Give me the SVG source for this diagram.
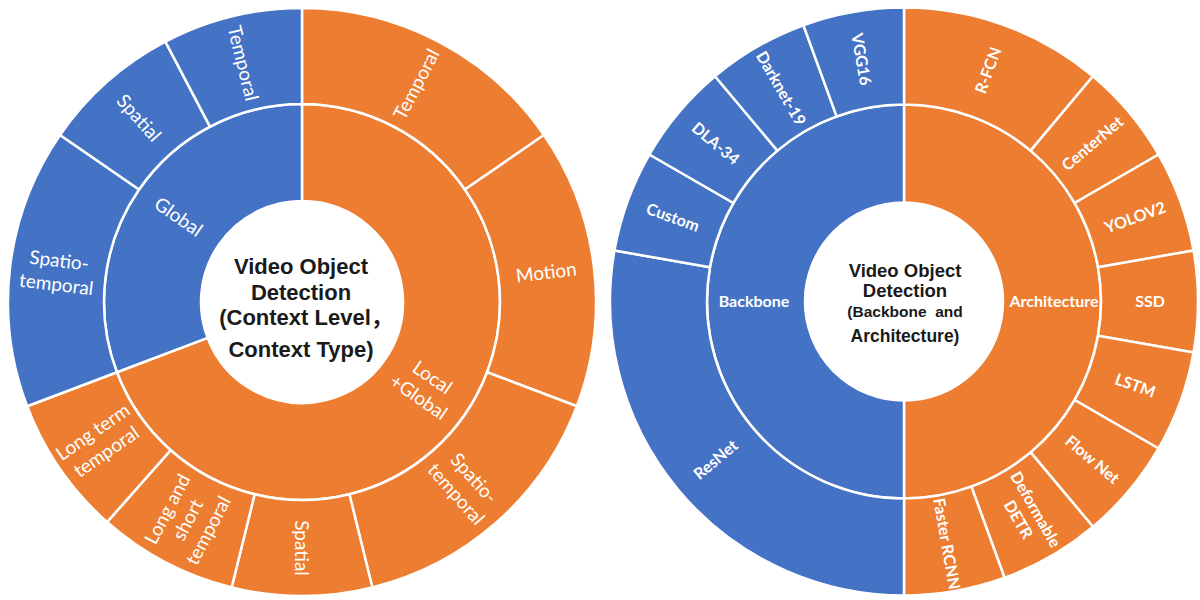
<svg xmlns="http://www.w3.org/2000/svg" width="1200" height="600" viewBox="0 0 1200 600">
<style>
.o{fill:#ED7D31;stroke:#fff;stroke-width:2.5;stroke-linejoin:round}
.b{fill:#4472C4;stroke:#fff;stroke-width:2.5;stroke-linejoin:round}
.l{font-family:Lato,"Open Sans",sans-serif;font-size:19px;fill:#fff;text-anchor:middle}
.r{font-family:Lato,"Open Sans",sans-serif;font-size:16px;font-weight:bold;fill:#fff;text-anchor:middle}
.c{font-family:"Liberation Sans","Noto Sans CJK SC",Arial,sans-serif;font-weight:bold;fill:#1a1a1a;text-anchor:middle}
</style>
<rect width="1200" height="600" fill="#fff"/>

<!-- LEFT SUNBURST -->
<g id="left-chart">
<g id="L-local-global">
<path class="o" d="M302,104 A198,198 0 1 1 116.87,372.21 L207.56,337.81 A101,101 0 1 0 302,201 Z"/>
<text class="l" transform="translate(425.5,387.2) rotate(34.62)"><tspan x="0" y="-5.35">Local</tspan><tspan x="0" y="18.65">+Global</tspan></text>
</g>
<g id="L-global">
<path class="b" d="M116.87,372.21 A198,198 0 0 1 302,104 L302,201 A101,101 0 0 0 207.56,337.81 Z"/>
<text class="l" transform="translate(178.5,216.8) rotate(34.62)" y="6.65">Global</text>
</g>
<g id="L-temporal-o">
<path class="o" d="M302,8 A294,294 0 0 1 543.96,134.98 L464.95,189.52 A198,198 0 0 0 302,104 Z"/>
<text class="l" transform="translate(416.3,84.2) rotate(-62.31)" y="6.65">Temporal</text>
</g>
<g id="L-motion">
<path class="o" d="M543.96,134.98 A294,294 0 0 1 576.89,406.25 L487.13,372.21 A198,198 0 0 0 464.95,189.52 Z"/>
<text class="l" transform="translate(546.2,272.4) rotate(-6.92)" y="6.65">Motion</text>
</g>
<g id="L-spatiotemporal-o">
<path class="o" d="M576.89,406.25 A294,294 0 0 1 372.35,587.44 L349.38,494.24 A198,198 0 0 0 487.13,372.21 Z"/>
<text class="l" transform="translate(465.1,486.1) rotate(48.46)"><tspan x="0" y="-5.35">Spatio-</tspan><tspan x="0" y="18.65">temporal</tspan></text>
</g>
<g id="L-spatial-o">
<path class="o" d="M372.35,587.44 A294,294 0 0 1 231.65,587.44 L254.62,494.24 A198,198 0 0 0 349.38,494.24 Z"/>
<text class="l" transform="translate(302,548) rotate(90)" y="6.65">Spatial</text>
</g>
<g id="L-long-short">
<path class="o" d="M231.65,587.44 A294,294 0 0 1 107.05,522.06 L170.71,450.20 A198,198 0 0 0 254.62,494.24 Z"/>
<text class="l" transform="translate(187.7,519.8) rotate(-62.31)"><tspan x="0" y="-16.35">Long and</tspan><tspan x="0" y="6.65">short</tspan><tspan x="0" y="29.65">temporal</tspan></text>
</g>
<g id="L-long-term">
<path class="o" d="M107.05,522.06 A294,294 0 0 1 27.11,406.25 L116.87,372.21 A198,198 0 0 0 170.71,450.20 Z"/>
<text class="l" transform="translate(99.5,441.8) rotate(-34.62)"><tspan x="0" y="-5.35">Long term</tspan><tspan x="0" y="18.65">temporal</tspan></text>
</g>
<g id="L-spatiotemporal-b">
<path class="b" d="M27.11,406.25 A294,294 0 0 1 60.04,134.98 L139.05,189.52 A198,198 0 0 0 116.87,372.21 Z"/>
<text class="l" transform="translate(57.8,272.4) rotate(6.92)"><tspan x="0" y="-5.35">Spatio-</tspan><tspan x="0" y="18.65">temporal</tspan></text>
</g>
<g id="L-spatial-b">
<path class="b" d="M60.04,134.98 A294,294 0 0 1 165.38,41.66 L209.99,126.67 A198,198 0 0 0 139.05,189.52 Z"/>
<text class="l" transform="translate(138.9,117.9) rotate(48.46)" y="6.65">Spatial</text>
</g>
<g id="L-temporal-b">
<path class="b" d="M165.38,41.66 A294,294 0 0 1 302,8 L302,104 A198,198 0 0 0 209.99,126.67 Z"/>
<text class="l" transform="translate(243.1,63.2) rotate(76.15)" y="6.65">Temporal</text>
</g>
<g id="L-center">
<text class="c" font-size="22"><tspan x="301" y="274">Video Object</tspan><tspan x="301" y="300">Detection</tspan><tspan x="306" y="325">(Context Level，</tspan><tspan x="301" y="357">Context Type)</tspan></text>
</g>
</g>

<!-- RIGHT SUNBURST -->
<g id="right-chart">
<g id="R-architecture">
<path class="o" d="M904,104.5 A197,197 0 0 1 904,498.5 L904,400.5 A99,99 0 0 0 904,202.5 Z"/>
<text class="r" x="1054" y="307.1">Architecture</text>
</g>
<g id="R-backbone">
<path class="b" d="M904,498.5 A197,197 0 0 1 904,104.5 L904,202.5 A99,99 0 0 0 904,400.5 Z"/>
<text class="r" x="754" y="307.1">Backbone</text>
</g>
<g id="R-rfcn">
<path class="o" d="M904,7.5 A294,294 0 0 1 1092.98,76.30 L1030.63,150.60 A197,197 0 0 0 904,104.5 Z"/>
<text class="r" transform="translate(988.1,70.3) rotate(-70)" y="5.6">R-FCN</text>
</g>
<g id="R-centernet">
<path class="o" d="M1092.98,76.30 A294,294 0 0 1 1158.60,154.50 L1074.60,203.00 A197,197 0 0 0 1030.63,150.60 Z"/>
<text class="r" transform="translate(1092.4,143.4) rotate(-40)" y="5.6">CenterNet</text>
</g>
<g id="R-yolov2">
<path class="o" d="M1158.60,154.50 A294,294 0 0 1 1193.53,250.46 L1098.01,267.30 A197,197 0 0 0 1074.60,203.00 Z"/>
<text class="r" transform="translate(1135.2,217.4) rotate(-20)" y="5.6">YOLOV2</text>
</g>
<g id="R-ssd">
<path class="o" d="M1193.53,250.46 A294,294 0 0 1 1193.53,352.54 L1098.01,335.70 A197,197 0 0 0 1098.01,267.30 Z"/>
<text class="r" x="1150" y="307.1">SSD</text>
</g>
<g id="R-lstm">
<path class="o" d="M1193.53,352.54 A294,294 0 0 1 1158.60,448.50 L1074.60,400.00 A197,197 0 0 0 1098.01,335.70 Z"/>
<text class="r" transform="translate(1135.2,385.6) rotate(20)" y="5.6">LSTM</text>
</g>
<g id="R-flownet">
<path class="o" d="M1158.60,448.50 A294,294 0 0 1 1092.98,526.70 L1030.63,452.40 A197,197 0 0 0 1074.60,400.00 Z"/>
<text class="r" transform="translate(1092.4,459.6) rotate(40)" y="5.6">Flow Net</text>
</g>
<g id="R-deformable-detr">
<path class="o" d="M1092.98,526.70 A294,294 0 0 1 1004.55,577.77 L971.37,486.62 A197,197 0 0 0 1030.63,452.40 Z"/>
<text class="r" transform="translate(1027,514.5) rotate(60)"><tspan x="0" y="-4.4">Deformable</tspan><tspan x="0" y="15.6">DETR</tspan></text>
</g>
<g id="R-faster-rcnn">
<path class="o" d="M1004.55,577.77 A294,294 0 0 1 904,595.5 L904,498.5 A197,197 0 0 0 971.37,486.62 Z"/>
<text class="r" transform="translate(946.7,543.8) rotate(80)" y="5.6">Faster RCNN</text>
</g>
<g id="R-resnet">
<path class="b" d="M904,595.5 A294,294 0 0 1 614.47,250.46 L709.99,267.30 A197,197 0 0 0 904,498.5 Z"/>
<text class="r" transform="translate(715.6,459.6) rotate(-40)" y="5.6">ResNet</text>
</g>
<g id="R-custom">
<path class="b" d="M614.47,250.46 A294,294 0 0 1 649.40,154.50 L733.40,203.00 A197,197 0 0 0 709.99,267.30 Z"/>
<text class="r" transform="translate(672.8,217.4) rotate(20)" y="5.6">Custom</text>
</g>
<g id="R-dla34">
<path class="b" d="M649.40,154.50 A294,294 0 0 1 715.02,76.30 L777.37,150.60 A197,197 0 0 0 733.40,203.00 Z"/>
<text class="r" transform="translate(715.6,143.4) rotate(40)" y="5.6">DLA-34</text>
</g>
<g id="R-darknet19">
<path class="b" d="M715.02,76.30 A294,294 0 0 1 803.45,25.23 L836.63,116.38 A197,197 0 0 0 777.37,150.60 Z"/>
<text class="r" transform="translate(781,88.5) rotate(60)" y="5.6">Darknet-19</text>
</g>
<g id="R-vgg16">
<path class="b" d="M803.45,25.23 A294,294 0 0 1 904,7.5 L904,104.5 A197,197 0 0 0 836.63,116.38 Z"/>
<text class="r" transform="translate(861.3,59.2) rotate(80)" y="5.6">VGG16</text>
</g>
<g id="R-center">
<text class="c" xml:space="preserve"><tspan x="905" y="276.7" font-size="18.5">Video Object</tspan><tspan x="905" y="296.7" font-size="18.5">Detection</tspan><tspan x="905" y="317" font-size="15.5">(Backbone  and</tspan><tspan x="905" y="341.7" font-size="17.5">Architecture)</tspan></text>
</g>
</g>
</svg>
